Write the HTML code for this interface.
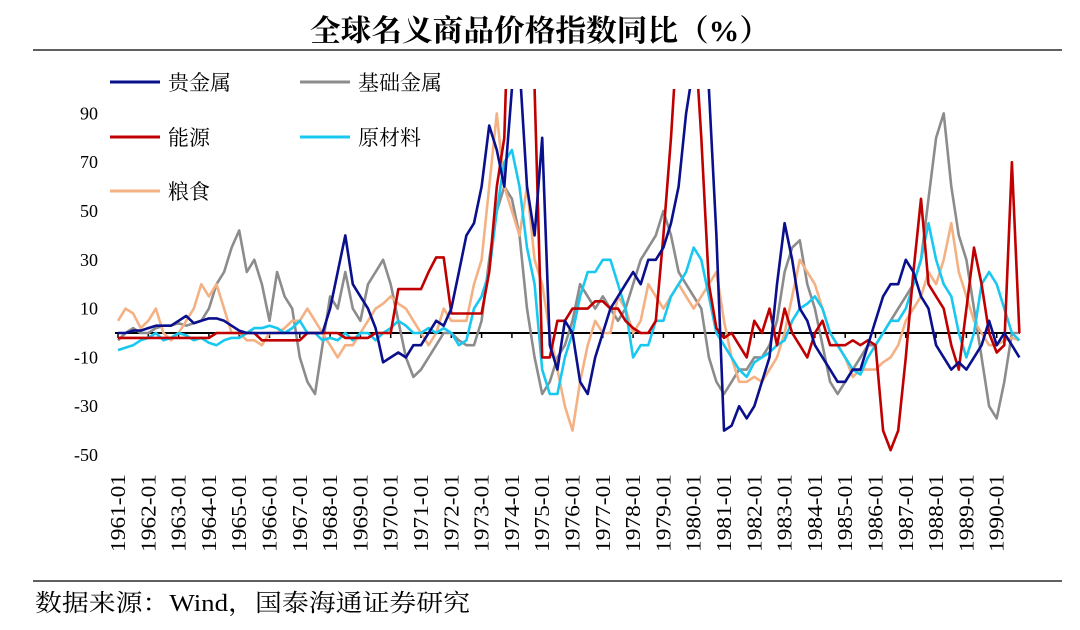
<!DOCTYPE html>
<html><head><meta charset="utf-8"><style>
body{margin:0;background:#fff;width:1080px;height:625px;overflow:hidden;font-family:"Liberation Serif","Noto Serif CJK SC",serif}
</style></head><body>
<svg id="c" width="1080" height="625" xmlns="http://www.w3.org/2000/svg">
<text x="540" y="41" text-anchor="middle" font-size="30" font-weight="bold" textLength="460" lengthAdjust="spacingAndGlyphs" font-family="Liberation Serif, Noto Serif CJK SC, serif">全球名义商品价格指数同比（%）</text>
<line x1="33" y1="50" x2="1062" y2="50" stroke="#000" stroke-width="1.2"/>
<line x1="33" y1="581" x2="1062" y2="581" stroke="#000" stroke-width="1.2"/>
<text x="35" y="611" font-size="24" textLength="435" lengthAdjust="spacingAndGlyphs" font-family="Liberation Serif, Noto Serif CJK SC, serif">数据来源：Wind，国泰海通证券研究</text>
<defs><clipPath id="pc"><rect x="100" y="89" width="940" height="390"/></clipPath></defs>
<g id="yaxis"></g>
<g id="xaxis"></g>
<g id="series" clip-path="url(#pc)"></g>
<g id="legend"></g>
</svg>
<script>
const yTicks=[90,70,50,30,10,-10,-30,-50];
const years=[1961,1962,1963,1964,1965,1966,1967,1968,1969,1970,1971,1972,1973,1974,1975,1976,1977,1978,1979,1980,1981,1982,1983,1984,1985,1986,1987,1988,1989,1990];
const seriesNames=["贵金属","基础金属","能源","原材料","粮食"];
const preciousMetals=[0,0,1,1,2,3,3,3,5,7,4,5,6,6,5,3,1,0,0,0,0,0,0,0,0,0,0,0,10,25,40,20,15,10,2,-12,-10,-8,-10,-5,-5,0,5,3,10,25,40,45,60,85,75,60,100,110,60,40,80,-5,-15,5,0,-20,-25,-10,0,10,15,20,25,20,30,30,35,45,60,90,110,110,100,40,-40,-38,-30,-35,-30,-20,-10,20,45,30,10,5,-5,-10,-15,-20,-20,-15,-15,-5,5,15,20,20,30,25,15,10,-5,-10,-15,-12,-15,-10,-5,5,-5,0,-5,-10];
const baseMetals=[-3,0,2,0,0,2,3,3,4,3,4,5,10,20,25,35,42,25,30,20,5,25,15,10,-10,-20,-25,-5,15,10,25,10,5,20,25,30,20,5,-10,-18,-15,-10,-5,0,0,-3,-5,-5,5,30,50,60,55,40,10,-10,-25,-20,-10,-5,5,20,15,10,15,10,5,10,20,30,35,40,50,40,25,20,15,10,-10,-20,-25,-20,-15,-15,-10,-10,-5,5,25,35,38,20,10,-5,-20,-25,-20,-15,-10,-5,-5,0,5,10,15,20,30,55,80,90,60,40,30,10,-10,-30,-35,-20,0,0];
const energy=[-2,-2,-2,-2,-2,-2,-2,-2,-2,-2,-2,-2,-2,0,0,0,0,0,0,-3,-3,-3,-3,-3,-3,0,0,0,0,0,-2,-2,-2,-2,0,0,0,18,18,18,18,25,31,31,8,8,8,8,8,25,60,80,180,180,140,100,-10,-10,5,5,10,10,10,13,13,10,10,5,2,0,0,5,40,80,130,150,130,80,20,2,-2,0,-5,-10,5,0,10,-5,10,0,-5,-10,0,5,-5,-5,-5,-3,-5,-3,-5,-40,-48,-40,-10,25,55,20,15,10,-5,-15,10,35,20,0,-8,-5,70,0];
const rawMaterials=[-7,-6,-5,-3,-2,0,-3,-2,0,-1,-3,-2,-4,-5,-3,-2,-2,0,2,2,3,2,0,2,5,0,0,-3,-2,-3,0,-3,0,0,-3,0,2,5,3,0,0,2,0,2,0,-5,-3,10,15,25,50,70,75,60,35,20,-15,-25,-25,-10,0,15,25,25,30,30,20,10,-10,-5,-5,5,5,15,20,25,35,30,15,0,-5,-10,-15,-18,-12,-10,-8,-5,-3,5,10,12,15,10,0,-5,-10,-15,-17,-10,-5,0,5,5,10,20,30,45,30,20,15,0,-10,0,20,25,20,10,0,-3];
const food=[5,10,8,2,5,10,0,-3,0,5,10,20,15,20,10,0,0,-3,-3,-5,0,0,2,5,5,10,5,0,-5,-10,-5,-5,0,5,10,12,15,12,10,5,0,-5,0,10,5,5,5,20,30,60,90,60,50,40,60,30,20,0,-15,-30,-40,-20,-5,5,0,0,15,10,0,5,20,15,10,15,20,15,10,15,20,25,5,-10,-20,-20,-18,-20,-15,-10,0,15,30,25,20,10,0,-5,-10,-18,-15,-15,-15,-12,-10,-5,5,10,15,25,20,30,45,25,15,5,0,-5,-5,-3,-2,-3];
const NS="http://www.w3.org/2000/svg";
const y0=333,pxPerUnit=2.44,x0=118,pxPerYear=30.3;
function yS(v){return y0-v*pxPerUnit;}
function xS(q){return x0+q/4*pxPerYear;}
function mk(t,a,p){const e=document.createElementNS(NS,t);for(const k in a)e.setAttribute(k,a[k]);p.appendChild(e);return e;}
const ya=document.getElementById('yaxis');
yTicks.forEach(v=>{const t=mk('text',{x:98,y:yS(v)+6,'text-anchor':'end','font-size':18},ya);t.textContent=v;

});
const xa=document.getElementById('xaxis');
const zl=mk('line',{x1:115,y1:y0,x2:1020,y2:y0,stroke:'#000','stroke-width':2},xa);


years.forEach((yr,i)=>{const x=xS(i*4);
const tk=mk('line',{x1:x,y1:y0,x2:x,y2:y0+5,stroke:'#000','stroke-width':1.5},xa);


const t=mk('text',{x:0,y:0,'font-size':21,'text-anchor':'end',textLength:78,lengthAdjust:'spacingAndGlyphs',transform:`translate(${x+7},474) rotate(-90)`},xa);t.textContent=yr+'-01';

});
const sg=document.getElementById('series');
const data=[preciousMetals,baseMetals,energy,rawMaterials,food];
const colors=['#0a0f8c','#8c8c8c','#c00000','#19c8f0','#f4b183'];
const ids=['precious-metals-line','base-metals-line','energy-line','raw-materials-line','food-line'];
const order=[1,4,3,2,0];
order.forEach(k=>{const d=data[k].map((v,i)=>(i?'L':'M')+xS(i).toFixed(1)+','+yS(v).toFixed(1)).join('');
const p=mk('path',{d:d,fill:'none',stroke:colors[k],'stroke-width':2.6,'stroke-linejoin':'round'},sg);

});
const lg=document.getElementById('legend');
const pos=[[110,82],[300,82],[110,137],[300,137],[110,191]];
seriesNames.forEach((n,k)=>{const [x,y]=pos[k];
const l=mk('line',{x1:x,y1:y,x2:x+50,y2:y,stroke:colors[k],'stroke-width':3},lg);


const t=mk('text',{x:x+58,y:y+8,'font-size':21,'font-family':'Liberation Serif, Noto Serif CJK SC, serif'},lg);t.textContent=n;

});
</script>
</body></html>
